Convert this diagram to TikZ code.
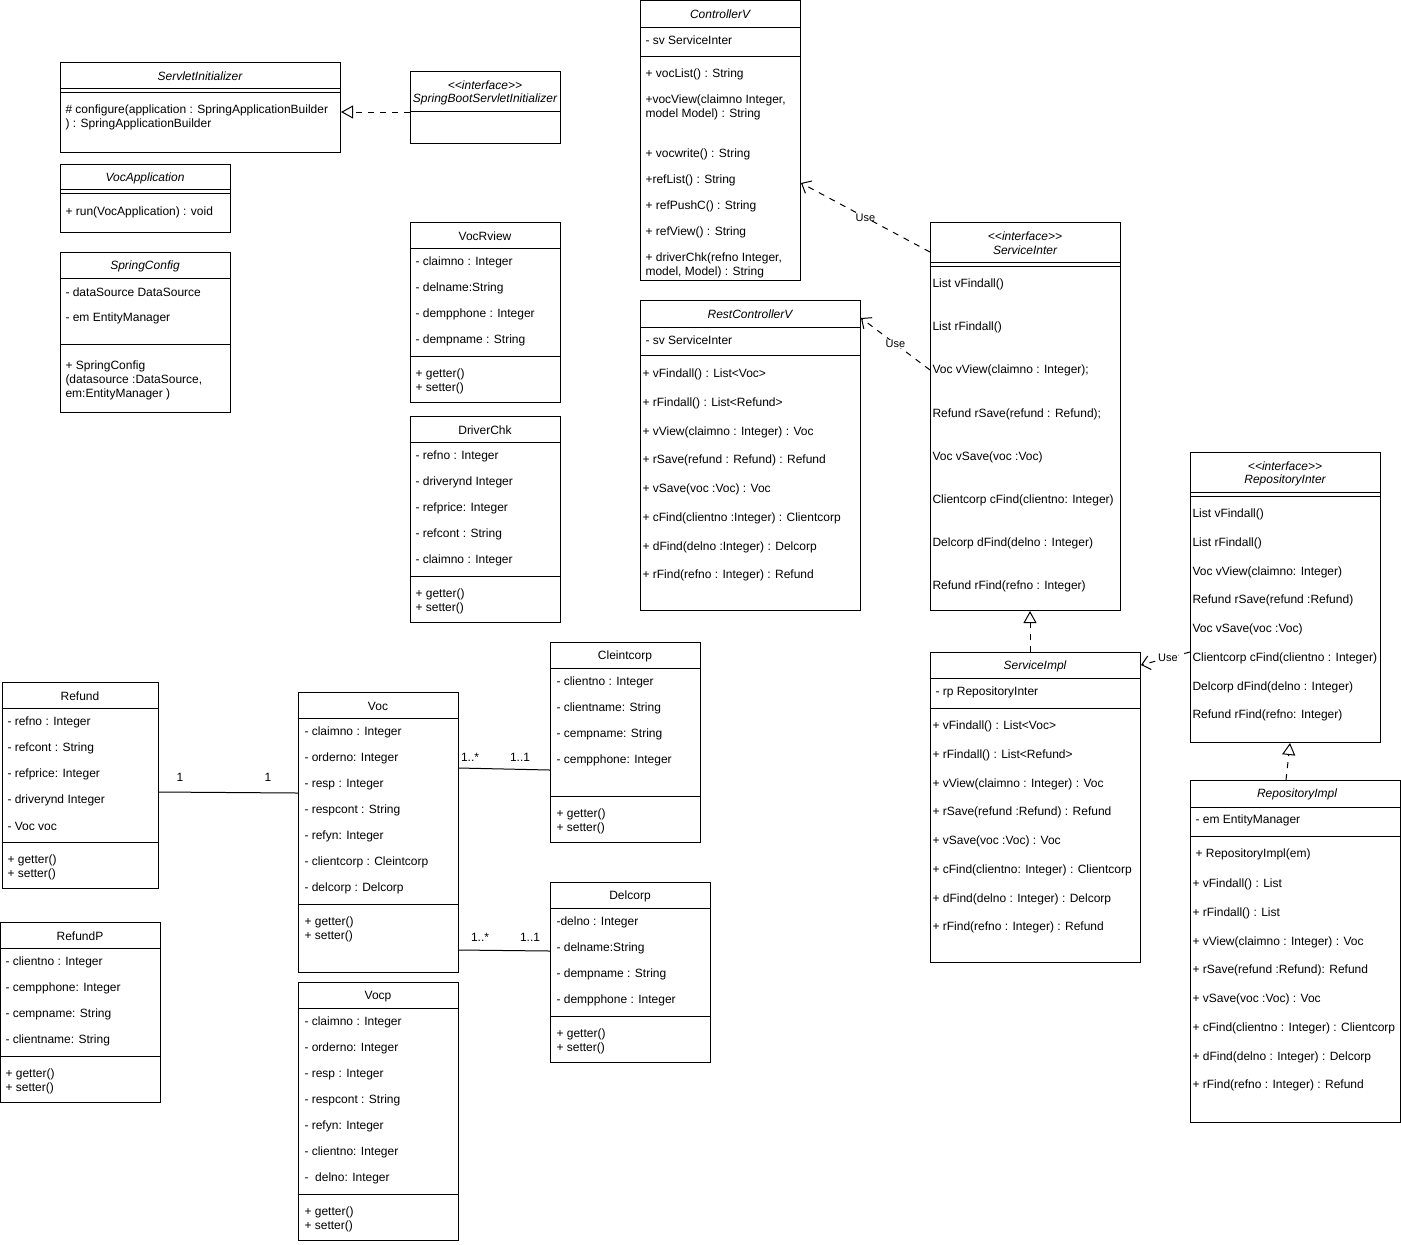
\documentclass[tikz,border=0pt]{standalone}
\usepackage{fontspec}
\setmainfont[Ligatures=NoCommon]{Liberation Sans}
\usetikzlibrary{arrows.meta}
\newcommand\cbox[5]{\node[draw,anchor=north west,minimum width={(#4-#2)*0.5pt},minimum height={(#5-#3)*0.5pt},inner sep=0pt] (#1) at (#2,#3) {};}
\newcommand\hl[2]{\draw (#1.west |- 0,#2) -- (#1.east |- 0,#2);}
\newcommand\dl[2]{\draw (#1.west |- 0,#2) -- (#1.east |- 0,#2); \draw (#1.west |- 0,#2+4) -- (#1.east |- 0,#2+4);}
\newcommand\tx[3]{\node[txt] at (#1,#2+1.5) {#3};}
\newcommand\ti[3]{\node[ttl] at (#1,#2+1.5) {#3};}
\newcommand\tit[3]{\node[ttl,font=\fontsize{6}{7}\selectfont\itshape] at (#1,#2+1.5) {#3};}
\newcommand\ifc{{<}{<}interface{>}{>}}
\begin{document}
\begin{tikzpicture}[x=0.5pt,y=-0.5pt,line width=0.5pt,
 txt/.style={anchor=west,inner sep=0pt,font=\fontsize{6}{7}\selectfont},
 ttl/.style={inner sep=0pt,font=\fontsize{6}{7}\selectfont},
 lbl/.style={inner sep=0pt,font=\fontsize{5.5}{6}\selectfont,fill=white},
 real/.style={dashed,-{Triangle[open,length=6pt,width=6.5pt]}},
 use/.style={dashed,-{Straight Barb[length=4pt,width=7pt]}}]
\useasboundingbox (0,0) rectangle (1401,1244);
% ServletInitializer
\cbox{si}{60}{62}{340}{152}
\tit{200}{75}{ServletInitializer}\dl{si}{88}
\tx{65}{109}{\# configure(application : SpringApplicationBuilder}
\tx{65}{123}{) : SpringApplicationBuilder}
% SpringBootServletInitializer
\cbox{sbsi}{410}{71}{560}{143}
\tit{485}{84}{\ifc}\tit{485}{98}{SpringBootServletInitializer}\hl{sbsi}{111}
\draw[real] (sbsi.west |- 0,112) -- (si.east |- 0,112);
% VocApplication
\cbox{va}{60}{164}{230}{232}
\tit{145}{177}{VocApplication}\dl{va}{189}
\tx{65}{211}{+ run(VocApplication) : void}
% SpringConfig
\cbox{sc}{60}{252}{230}{412}
\tit{145}{265}{SpringConfig}\hl{sc}{278}
\tx{65}{291}{- dataSource DataSource}\tx{65}{317}{- em EntityManager}\hl{sc}{344}
\tx{65}{365}{+ SpringConfig}\tx{65}{379}{(datasource :DataSource,}\tx{65}{393}{em:EntityManager )}
% VocRview
\cbox{vr}{410}{222}{560}{402}
\ti{485}{235}{VocRview}\hl{vr}{248}
\tx{415}{261}{- claimno : Integer}\tx{415}{287}{- delname:String}\tx{415}{313}{- dempphone : Integer}\tx{415}{339}{- dempname : String}
\hl{vr}{356}\tx{415}{373}{+ getter()}\tx{415}{387}{+ setter()}
% DriverChk
\cbox{dc}{410}{416}{560}{622}
\ti{485}{429}{DriverChk}\hl{dc}{442}
\tx{415}{455}{- refno : Integer}\tx{415}{481}{- driverynd Integer}\tx{415}{507}{- refprice: Integer}\tx{415}{533}{- refcont : String}\tx{415}{559}{- claimno : Integer}
\hl{dc}{576}\tx{415}{593}{+ getter()}\tx{415}{607}{+ setter()}
% ControllerV
\cbox{cv}{640}{0}{800}{280}
\tit{720}{13}{ControllerV}\hl{cv}{27}
\tx{645}{39}{- sv ServiceInter}\hl{cv}{56}
\tx{645}{73}{+ vocList() : String}\tx{645}{99}{+vocView(claimno Integer,}\tx{645}{113}{model Model) : String}
\tx{645}{153}{+ vocwrite() : String}\tx{645}{179}{+refList() : String}\tx{645}{205}{+ refPushC() : String}
\tx{645}{231}{+ refView() : String}\tx{645}{257}{+ driverChk(refno Integer,}\tx{645}{271}{model, Model) : String}
% RestControllerV
\cbox{rcv}{640}{300}{860}{610}
\tit{750}{313}{RestControllerV}\hl{rcv}{327}
\tx{645}{339}{- sv ServiceInter}\hl{rcv}{355}
\tx{642}{373}{+ vFindall() : List<Voc>}\tx{642}{402}{+ rFindall() : List<Refund>}\tx{642}{431}{+ vView(claimno : Integer) : Voc}
\tx{642}{459}{+ rSave(refund : Refund) : Refund}\tx{642}{488}{+ vSave(voc :Voc) : Voc}\tx{642}{517}{+ cFind(clientno :Integer) : Clientcorp}
\tx{642}{546}{+ dFind(delno :Integer) : Delcorp}\tx{642}{574}{+ rFind(refno : Integer) : Refund}
% ServiceInter
\cbox{sin}{930}{222}{1120}{610}
\tit{1025}{235}{\ifc}\tit{1025}{249}{ServiceInter}\dl{sin}{262}
\tx{932}{283}{List vFindall()}\tx{932}{326}{List rFindall()}\tx{932}{369}{Voc vView(claimno : Integer);}
\tx{932}{413}{Refund rSave(refund : Refund);}\tx{932}{456}{Voc vSave(voc :Voc)}\tx{932}{499}{Clientcorp cFind(clientno: Integer)}
\tx{932}{542}{Delcorp dFind(delno : Integer)}\tx{932}{585}{Refund rFind(refno : Integer)}
\draw[use] (sin.west |- 0,252) -- node[lbl,pos=0.5] {Use} (cv.east |- 0,183);
\draw[use] (sin.west |- 0,370) -- node[lbl,pos=0.5] {Use} (rcv.east |- 0,318);
% RepositoryInter
\cbox{ri}{1190}{452}{1380}{742}
\tit{1285}{465}{\ifc}\tit{1285}{479}{RepositoryInter}\dl{ri}{492}
\tx{1192}{513}{List vFindall()}\tx{1192}{542}{List rFindall()}\tx{1192}{571}{Voc vView(claimno: Integer)}
\tx{1192}{599}{Refund rSave(refund :Refund)}\tx{1192}{628}{Voc vSave(voc :Voc)}\tx{1192}{657}{Clientcorp cFind(clientno : Integer)}
\tx{1192}{686}{Delcorp dFind(delno : Integer)}\tx{1192}{714}{Refund rFind(refno: Integer)}
% ServiceImpl
\cbox{simp}{930}{652}{1140}{962}
\tit{1035}{665}{ServiceImpl}\hl{simp}{678}
\tx{935}{691}{- rp RepositoryInter}\hl{simp}{708}
\tx{932}{725}{+ vFindall() : List<Voc>}\tx{932}{754}{+ rFindall() : List<Refund>}\tx{932}{783}{+ vView(claimno : Integer) : Voc}
\tx{932}{811}{+ rSave(refund :Refund) : Refund}\tx{932}{840}{+ vSave(voc :Voc) : Voc}\tx{932}{869}{+ cFind(clientno: Integer) : Clientcorp}
\tx{932}{898}{+ dFind(delno : Integer) : Delcorp}\tx{932}{926}{+ rFind(refno : Integer) : Refund}
\draw[real] (simp.north -| 1030,0) -- (sin.south -| 1030,0);
\draw[use] (ri.west |- 0,652) -- node[lbl,pos=0.45] {Use} (simp.east |- 0,665);
% RepositoryImpl
\cbox{rimp}{1190}{780}{1400}{1122}
\tit{1297}{793}{RepositoryImpl}\hl{rimp}{807}
\tx{1195}{819}{- em EntityManager}\hl{rimp}{836}
\tx{1195}{853}{+ RepositoryImpl(em)}
\tx{1192}{883}{+ vFindall() : List}\tx{1192}{912}{+ rFindall() : List}\tx{1192}{941}{+ vView(claimno : Integer) : Voc}
\tx{1192}{969}{+ rSave(refund :Refund): Refund}\tx{1192}{998}{+ vSave(voc :Voc) : Voc}\tx{1192}{1027}{+ cFind(clientno : Integer) : Clientcorp}
\tx{1192}{1056}{+ dFind(delno : Integer) : Delcorp}\tx{1192}{1084}{+ rFind(refno : Integer) : Refund}
\draw[real] (rimp.north -| 1286,0) -- (ri.south -| 1290,0);
% Refund
\cbox{rf}{2}{682}{158}{888}
\ti{80}{695}{Refund}\hl{rf}{708}
\tx{7}{721}{- refno : Integer}\tx{7}{747}{- refcont : String}\tx{7}{773}{- refprice: Integer}\tx{7}{799}{- driverynd Integer}\tx{7}{825}{- Voc voc}
\hl{rf}{842}\tx{7}{859}{+ getter()}\tx{7}{873}{+ setter()}
% RefundP
\cbox{rfp}{0}{922}{160}{1102}
\ti{80}{935}{RefundP}\hl{rfp}{948}
\tx{5}{961}{- clientno : Integer}\tx{5}{987}{- cempphone: Integer}\tx{5}{1013}{- cempname: String}\tx{5}{1039}{- clientname: String}
\hl{rfp}{1056}\tx{5}{1073}{+ getter()}\tx{5}{1087}{+ setter()}
% Voc
\cbox{voc}{298}{692}{458}{972}
\ti{378}{705}{Voc}\hl{voc}{718}
\tx{304}{731}{- claimno : Integer}\tx{304}{757}{- orderno: Integer}\tx{304}{783}{- resp : Integer}\tx{304}{809}{- respcont : String}
\tx{304}{835}{- refyn: Integer}\tx{304}{861}{- clientcorp : Cleintcorp}\tx{304}{887}{- delcorp : Delcorp}
\hl{voc}{904}\tx{304}{921}{+ getter()}\tx{304}{935}{+ setter()}
% Vocp
\cbox{vocp}{298}{982}{458}{1240}
\ti{378}{995}{Vocp}\hl{vocp}{1008}
\tx{304}{1021}{- claimno : Integer}\tx{304}{1047}{- orderno: Integer}\tx{304}{1073}{- resp : Integer}\tx{304}{1099}{- respcont : String}
\tx{304}{1125}{- refyn: Integer}\tx{304}{1151}{- clientno: Integer}\tx{304}{1177}{-~~delno: Integer}
\hl{vocp}{1194}\tx{304}{1211}{+ getter()}\tx{304}{1225}{+ setter()}
% Cleintcorp
\cbox{cc}{550}{642}{700}{842}
\ti{625}{655}{Cleintcorp}\hl{cc}{668}
\tx{556}{681}{- clientno : Integer}\tx{556}{707}{- clientname: String}\tx{556}{733}{- cempname: String}\tx{556}{759}{- cempphone: Integer}
\hl{cc}{796}\tx{556}{813}{+ getter()}\tx{556}{827}{+ setter()}
% Delcorp
\cbox{dl}{550}{882}{710}{1062}
\ti{630}{895}{Delcorp}\hl{dl}{908}
\tx{556}{921}{-delno : Integer}\tx{556}{947}{- delname:String}\tx{556}{973}{- dempname : String}\tx{556}{999}{- dempphone : Integer}
\hl{dl}{1016}\tx{556}{1033}{+ getter()}\tx{556}{1047}{+ setter()}
% associations
\draw (rf.east |- 0,792) -- (voc.west |- 0,793);
\node[ttl] at (180,777) {1};\node[ttl] at (268,777) {1};
\draw (voc.east |- 0,768) -- (cc.west |- 0,770);
\node[ttl] at (470,757) {1..*};\node[ttl] at (520,757) {1..1};
\draw (voc.east |- 0,950) -- (dl.west |- 0,951);
\node[ttl] at (480,937) {1..*};\node[ttl] at (530,937) {1..1};
\end{tikzpicture}
\end{document}
